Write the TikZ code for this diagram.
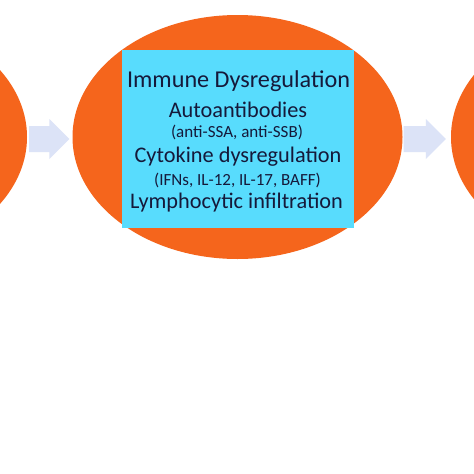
\documentclass[tikz,border=0pt]{standalone}
\usepackage{fontspec}
\setmainfont{Carlito}
\usepackage{tikz}
\usetikzlibrary{shapes.geometric, calc}
\definecolor{stageorange}{HTML}{F5651C}
\definecolor{boxcyan}{HTML}{58DCFD}
\definecolor{arrowlilac}{HTML}{DCE3F7}
\definecolor{textnavy}{HTML}{15193A}

\begin{document}
\begin{tikzpicture}[x=1pt, y=-1pt,
  stage/.style={ellipse, fill=stageorange, draw=none, inner sep=0pt,
                minimum width=330pt, minimum height=244pt},
  infobox/.style={rectangle, fill=boxcyan, draw=none, inner sep=0pt,
                  minimum width=232pt, minimum height=178pt},
  titleline/.style={anchor=base, inner sep=0pt, text=textnavy, font=\fontsize{24.2}{27}\selectfont},
  headline/.style={anchor=base, inner sep=0pt, text=textnavy, font=\fontsize{22.3}{25}\selectfont},
  subline/.style={anchor=base, inner sep=0pt, text=textnavy, font=\fontsize{17}{19}\selectfont},
  flowarrow/.style={fill=arrowlilac, draw=none}
]
  \fill[white] (0,0) rectangle (474,474);
  \useasboundingbox (0,0) rectangle (474,474);

  % stages
  \node[stage] (prev) at (-138,137) {};
  \node[stage] (immune) at (237.5,137) {};
  \node[stage] (next) at (616,137) {};

  \node[infobox] (info) at (238,139) {};

  % text of the middle stage
  \node[titleline] (title) at (238.5,87) {Immune Dysregulation};
  \node[headline] (auto) at (238,117) {Autoantibodies};
  \node[subline] (autolist) at (237,137) {(anti-SSA, anti-SSB)};
  \node[headline] (cyto) at (238,162) {Cytokine dysregulation};
  \node[subline] (cytolist) at (237.5,185) {(IFNs, IL-12, IL-17, BAFF)};
  \node[headline] (lymph) at (236.5,208) {Lymphocytic infiltration};

  % block arrows between stages
  \coordinate (a1) at ($(prev.east)+(2,2)$);
  \coordinate (a2) at ($(immune.west)+(-3,2)$);
  \coordinate (b1) at ($(immune.east)+(1,2)$);
  \coordinate (b2) at ($(next.west)+(-5,2)$);
  \fill[flowarrow] ($(a1)+(0,-13)$) -- ($(a2)+(-20,-13)$) -- ($(a2)+(-20,-20)$) -- (a2)
    -- ($(a2)+(-20,20)$) -- ($(a2)+(-20,13)$) -- ($(a1)+(0,13)$) -- cycle;
  \fill[flowarrow] ($(b1)+(0,-13)$) -- ($(b2)+(-20,-13)$) -- ($(b2)+(-20,-20)$) -- (b2)
    -- ($(b2)+(-20,20)$) -- ($(b2)+(-20,13)$) -- ($(b1)+(0,13)$) -- cycle;
\end{tikzpicture}
\end{document}
